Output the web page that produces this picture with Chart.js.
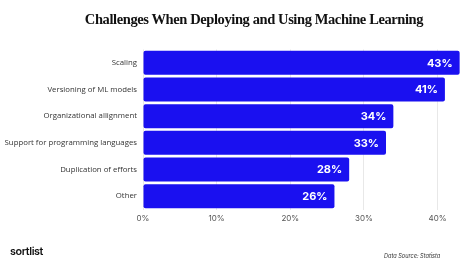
<!DOCTYPE html>
<html>
<head>
<meta charset="utf-8">
<script src="https://cdn.jsdelivr.net/npm/chart.js@4.4.1/dist/chart.umd.min.js"></script>
<style>
  html, body { margin: 0; padding: 0; background: #ffffff; }
  #wrap { position: relative; width: 474px; height: 266px; overflow: hidden; }
  #c { position: absolute; left: 0; top: 0; }
  #title { position: absolute; left: 54px; width: 400px; top: 10px; text-align: center; font-family: "Liberation Serif", serif; font-weight: bold; font-size: 14.5px; letter-spacing: -0.4px; color: #111; line-height: 18px; white-space: nowrap; }
  #logo { position: absolute; left: 10px; top: 245px; font-family: Inter, sans-serif; font-weight: 600; font-size: 10.8px; color: #111; letter-spacing: -0.4px; }
  #src { position: absolute; left: 384px; top: 253px; font-family: Inter, sans-serif; font-style: italic; font-size: 5.6px; color: #333; }
</style>
</head>
<body>
<div id="wrap">
  <canvas id="c" width="474" height="266"></canvas>
  <div id="title"></div>
  <div id="logo">sortlist</div>
  <div id="src">Data Source: Statista</div>
</div>
<script>
const categories = ["Scaling", "Versioning of ML models", "Organizational allignment", "Support for programming languages", "Duplication of efforts", "Other"];
const values = [43, 41, 34, 33, 28, 26];
const tickValues = [0, 10, 20, 30, 40];
const titleText = "Challenges When Deploying and Using Machine Learning";

document.getElementById('title').textContent = titleText;

const valueLabels = {
  id: 'valueLabels',
  afterDatasetsDraw(chart) {
    const ctx = chart.ctx;
    const meta = chart.getDatasetMeta(0);
    ctx.save();
    ctx.fillStyle = '#ffffff';
    ctx.font = 'bold 11px Inter, sans-serif';
    ctx.textAlign = 'right';
    ctx.textBaseline = 'middle';
    meta.data.forEach((bar, i) => {
      ctx.fillText(values[i] + '%', bar.x - 7, bar.y + 0.5);
    });
    ctx.restore();
  }
};

new Chart(document.getElementById('c'), {
  type: 'bar',
  data: {
    labels: categories,
    datasets: [{
      data: values,
      backgroundColor: '#1a10f0',
      borderRadius: 2,
      borderSkipped: false,
      categoryPercentage: 0.9,
      barPercentage: 1.0
    }]
  },
  options: {
    indexAxis: 'y',
    responsive: false,
    animation: false,
    layout: { padding: { left: 5, right: 7, top: 49.5, bottom: 40.5 } },
    plugins: {
      legend: { display: false },
      tooltip: { enabled: false },
      title: { display: false }
    },
    scales: {
      x: {
        min: 0,
        max: 44,
        afterBuildTicks(scale) { scale.ticks = tickValues.map(v => ({ value: v })); },
        afterFit(scale) { scale.height = 16; },
        grid: { color: '#e8e8e8', drawTicks: false, lineWidth: 1 },
        border: { display: false },
        ticks: {
          padding: 4,
          color: '#555555',
          font: { family: 'Inter, sans-serif', size: 8 },
          callback: v => v + '%'
        }
      },
      y: {
        afterFit(scale) { scale.width = 138; },
        grid: { display: false, drawTicks: false },
        border: { display: false },
        ticks: {
          padding: 6,
          color: '#333333',
          font: { family: '"Open Sans", sans-serif', size: 7.8 }
        }
      }
    }
  },
  plugins: [valueLabels]
});
</script>
</body>
</html>
